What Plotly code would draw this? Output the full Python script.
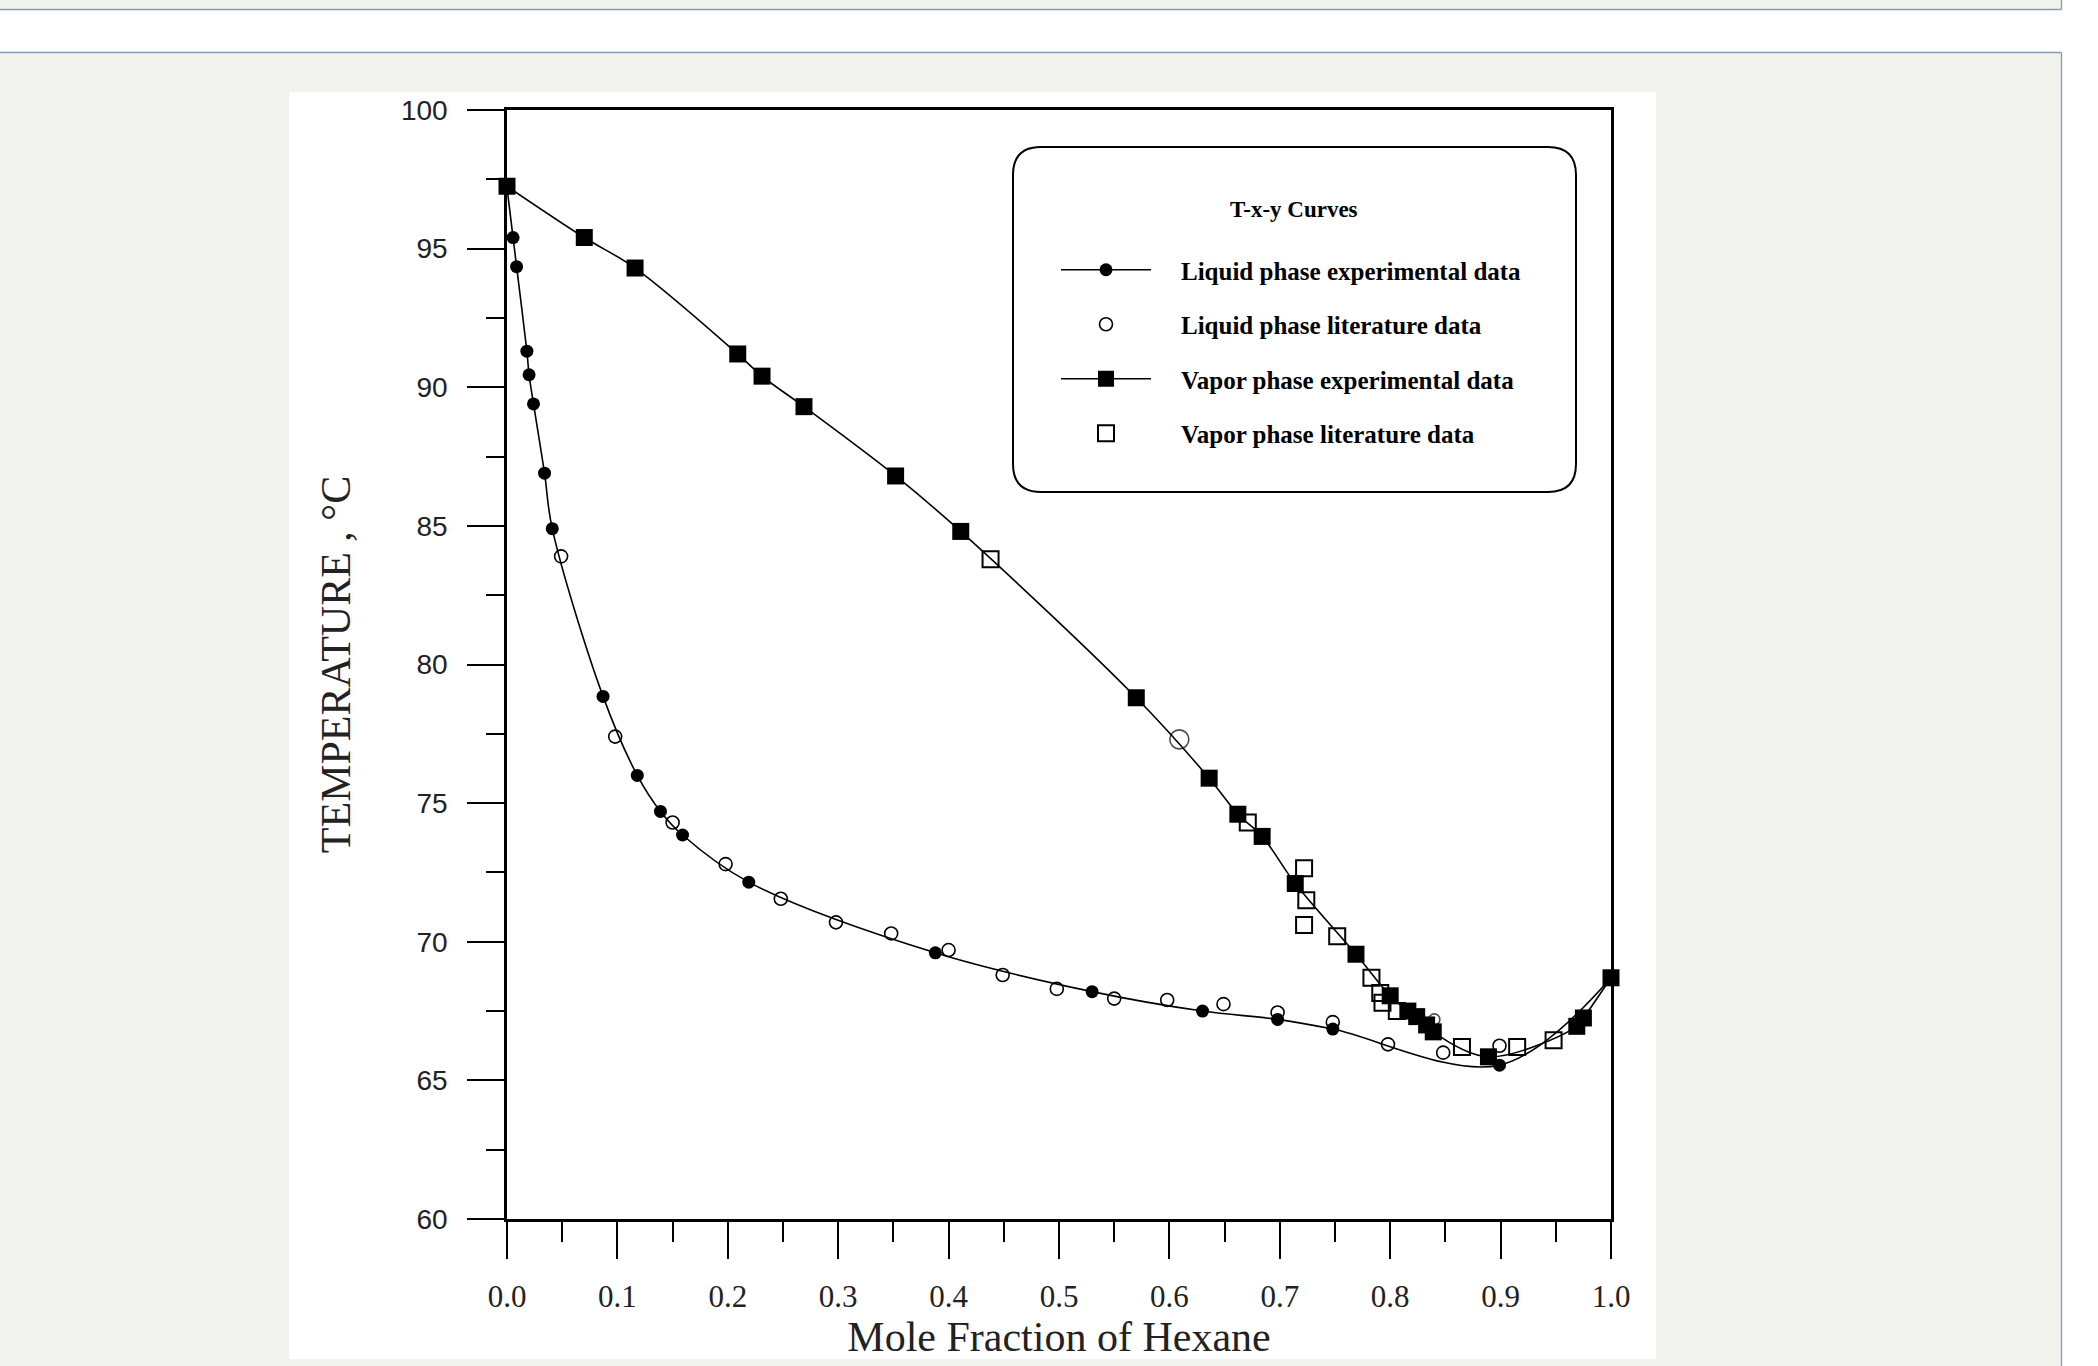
import plotly.graph_objects as go

# ---------------- data ----------------
liq_exp_x = [0.0, 0.0055, 0.0087, 0.018, 0.020, 0.024, 0.034, 0.041, 0.087, 0.118, 0.139,
             0.159, 0.219, 0.388, 0.530, 0.630, 0.698, 0.748, 0.899, 1.0]
liq_exp_T = [97.2, 95.4, 94.35, 91.3, 90.45, 89.4, 86.9, 84.9, 78.85, 76.0, 74.7,
             73.85, 72.15, 69.6, 68.2, 67.5, 67.2, 66.85, 65.55, 68.7]

liq_lit_x = [0.049, 0.098, 0.150, 0.198, 0.248, 0.298, 0.348, 0.400, 0.449, 0.498, 0.550,
             0.598, 0.649, 0.698, 0.748, 0.798, 0.848, 0.899]
liq_lit_T = [83.9, 77.4, 74.3, 72.8, 71.55, 70.7, 70.3, 69.7, 68.8, 68.3, 67.95,
             67.9, 67.75, 67.45, 67.1, 66.3, 66.0, 66.25]

vap_exp_x = [0.0, 0.070, 0.116, 0.209, 0.231, 0.269, 0.352, 0.411, 0.570, 0.636, 0.662,
             0.684, 0.714, 0.769, 0.800, 0.816, 0.824, 0.833, 0.839, 0.889, 0.969, 0.975, 1.0]
vap_exp_T = [97.25, 95.4, 94.3, 91.2, 90.4, 89.3, 86.8, 84.8, 78.8, 75.9, 74.6,
             73.8, 72.1, 69.55, 68.05, 67.5, 67.3, 67.0, 66.75, 65.85, 66.95, 67.25, 68.7]

vap_lit_x = [0.438, 0.671, 0.722, 0.724, 0.722, 0.752, 0.783, 0.791, 0.793, 0.806,
             0.865, 0.915, 0.948]
vap_lit_T = [83.8, 74.3, 72.65, 71.5, 70.6, 70.2, 68.7, 68.15, 67.8, 67.5,
             66.2, 66.2, 66.45]

vap_lit_circ_x = [0.609, 0.840]
vap_lit_circ_T = [77.3, 67.2]

x_tick_vals = [0.0, 0.1, 0.2, 0.3, 0.4, 0.5, 0.6, 0.7, 0.8, 0.9, 1.0]
x_tick_text = ["0.0", "0.1", "0.2", "0.3", "0.4", "0.5", "0.6", "0.7", "0.8", "0.9", "1.0"]
y_tick_vals = [60, 65, 70, 75, 80, 85, 90, 95, 100]
y_tick_text = ["60", "65", "70", "75", "80", "85", "90", "95", "100"]

legend_title = "T-x-y Curves"
names = ["Liquid phase experimental data", "Liquid phase literature data",
         "Vapor phase experimental data", "Vapor phase literature data"]

# ---------------- layout geometry (pixels) ----------------
W, H = 2098, 1366
PL, PR, PT, PB = 507, 1611, 110, 1219


def px(v):
    return (v - PL) / (PR - PL)


def py(v):
    return (PB - v) / (PB - PT)


GRAY = "#f2f3ee"
BLUE = "#7f9db9"
SERIF = "Liberation Serif"
SANS = "Liberation Sans"
GAP = "\u00a0" * 4  # space between legend key and label

fig = go.Figure()

fig.add_trace(go.Scatter(
    x=liq_exp_x, y=liq_exp_T, name=GAP + names[0], legendgroup="a",
    mode="lines+markers", line=dict(color="black", width=1.6, shape="spline", smoothing=1.0),
    marker=dict(symbol="circle", size=13, color="black"), cliponaxis=False))
fig.add_trace(go.Scatter(
    x=liq_lit_x, y=liq_lit_T, name=GAP + names[1], legendgroup="b",
    mode="markers",
    marker=dict(symbol="circle-open", size=13, color="black", line=dict(width=1.6)),
    cliponaxis=False))
fig.add_trace(go.Scatter(
    x=vap_exp_x, y=vap_exp_T, name=GAP + names[2], legendgroup="c",
    mode="lines+markers", line=dict(color="black", width=1.6, shape="spline", smoothing=1.0),
    marker=dict(symbol="square", size=17, color="black"), cliponaxis=False))
fig.add_trace(go.Scatter(
    x=vap_lit_x, y=vap_lit_T, name=GAP + names[3], legendgroup="d",
    mode="markers",
    marker=dict(symbol="square-open", size=16, color="black", line=dict(width=2)),
    cliponaxis=False))
fig.add_trace(go.Scatter(
    x=vap_lit_circ_x, y=vap_lit_circ_T, name=names[3], legendgroup="d", showlegend=False,
    mode="markers",
    marker=dict(symbol="circle-open", size=[19, 11], color="black", line=dict(width=1.6)),
    cliponaxis=False))

shapes = []


def rect(x0, y0, x1, y1, color):
    shapes.append(dict(type="rect", xref="paper", yref="paper", layer="below",
                       x0=px(x0), x1=px(x1), y0=py(y1), y1=py(y0),
                       fillcolor=color, line=dict(width=0)))


def line(x0, y0, x1, y1, color, w=1.3):
    shapes.append(dict(type="line", xref="paper", yref="paper", layer="below",
                       x0=px(x0), x1=px(x1), y0=py(y0), y1=py(y1),
                       line=dict(color=color, width=w)))


# page pieces
rect(0, 10, W, 52, "white")
rect(2062, 0, W, H, "white")
line(0, 9.5, 2061.5, 9.5, BLUE)
line(2061.5, 0, 2061.5, 9.5, BLUE)
line(0, 52.5, 2061.5, 52.5, BLUE)
line(2061.5, 52.5, 2061.5, H, BLUE)
# white image area
rect(289, 92, 1656, 1359, "white")

# rounded legend box
bx0, by0, bx1, by1, r = 1013, 147, 1576, 492, 28
pts = [
    ("M", (bx0 + r, by0)), ("L", (bx1 - r, by0)), ("Q", (bx1, by0), (bx1, by0 + r)),
    ("L", (bx1, by1 - r)), ("Q", (bx1, by1), (bx1 - r, by1)), ("L", (bx0 + r, by1)),
    ("Q", (bx0, by1), (bx0, by1 - r)), ("L", (bx0, by0 + r)), ("Q", (bx0, by0), (bx0 + r, by0)),
]
path = ""
for item in pts:
    cmd = item[0]
    coords = " ".join(f"{px(a):.5f},{py(b):.5f}" for a, b in item[1:])
    path += f"{cmd} {coords} "
path += "Z"
shapes.append(dict(type="path", xref="paper", yref="paper", layer="below", path=path,
                   line=dict(color="black", width=2), fillcolor="rgba(0,0,0,0)"))

annotations = [dict(
    text=legend_title, xref="paper", yref="paper", x=px(1294), y=py(209),
    xanchor="center", yanchor="middle", showarrow=False,
    font=dict(family=SERIF, size=23, color="black", weight="bold"))]

fig.update_layout(
    width=W, height=H,
    margin=dict(l=PL, r=W - PR, t=PT, b=H - PB, pad=0),
    paper_bgcolor=GRAY, plot_bgcolor="white",
    shapes=shapes, annotations=annotations,
    showlegend=True,
    legend=dict(
        x=px(1056), y=py(247), xanchor="left", yanchor="top",
        bgcolor="rgba(0,0,0,0)", borderwidth=0,
        font=dict(family=SERIF, size=25, color="black", weight="bold"),
        itemwidth=90, tracegroupgap=19, traceorder="grouped", itemsizing="trace",
    ),
    xaxis=dict(
        range=[0, 1], tickmode="array", tickvals=x_tick_vals, ticktext=x_tick_text,
        ticks="outside", ticklen=37, tickwidth=2, tickcolor="black",
        minor=dict(dtick=0.05, tick0=0, ticks="outside", ticklen=20, tickwidth=2, tickcolor="black"),
        showline=True, linecolor="black", linewidth=2.5, mirror=True,
        showgrid=False, zeroline=False,
        tickfont=dict(family=SERIF, size=31, color="#222"),
        ticklabelstandoff=11,
        title=dict(text="Mole Fraction of Hexane", standoff=4,
                   font=dict(family=SERIF, size=42, color="#222")),
    ),
    yaxis=dict(
        range=[60, 100], tickmode="array", tickvals=y_tick_vals, ticktext=y_tick_text,
        ticks="outside", ticklen=37, tickwidth=2, tickcolor="black",
        minor=dict(dtick=2.5, tick0=60, ticks="outside", ticklen=18, tickwidth=2, tickcolor="black"),
        showline=True, linecolor="black", linewidth=2.5, mirror=True,
        showgrid=False, zeroline=False,
        tickfont=dict(family=SANS, size=28, color="#222"),
        ticklabelstandoff=14,
        title=dict(text="TEMPERATURE , °C", standoff=38,
                   font=dict(family=SERIF, size=42, color="#222")),
    ),
)

fig.write_html("out.html")
